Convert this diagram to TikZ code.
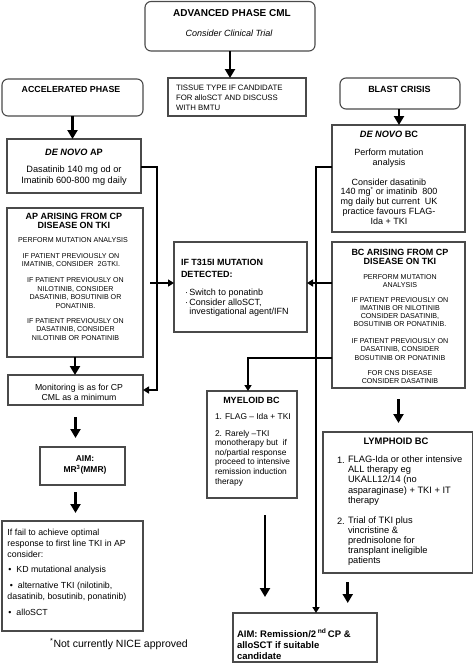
\documentclass[tikz,border=0pt]{standalone}
\usepackage{fontspec}
\setmainfont{Liberation Sans}
\usetikzlibrary{arrows.meta,fit}
\newcommand\fz[2]{\fontsize{#1}{#2}\selectfont}
\definecolor{bordergray}{HTML}{4A4A4A}
\begin{document}
\begin{tikzpicture}[x=1pt,y=-1pt,
  box/.style={draw=bordergray, line width=1.1pt, inner sep=0pt, outer sep=0pt},
  rbox/.style={box, rounded corners=6pt},
  txt/.style={inner sep=0pt, outer sep=0pt, align=center},
  ltxt/.style={inner sep=0pt, outer sep=0pt, align=left, anchor=west},
  thk/.style={line width=2.8pt, -{Triangle[width=10pt,length=9pt]}},
  conn/.style={line width=1.8pt, -{Triangle[width=7pt,length=6pt]}},
  plain/.style={line width=1.8pt}]
\useasboundingbox (0,0) rectangle (474,665);

% boxes
\node[rbox, fit={(145,1.5) (315,51)}] (top) {};
\node[box, fit={(168,78) (306,116)}] (tissue) {};
\node[rbox, fit={(2,79) (143,116)}] (accel) {};
\node[rbox, fit={(340,78) (460,109)}] (blast) {};
\node[box, fit={(7,139) (141,193)}] (dnap) {};
\node[box, fit={(7,208) (143,357)}] (aparise) {};
\node[box, fit={(8,375) (143,405)}] (monit) {};
\node[box, fit={(40,447) (125,485)}] (aimmr) {};
\node[box, fit={(2,521) (143,631)}] (iffail) {};
\node[box, fit={(174,242) (307,332)}] (tki) {};
\node[box, fit={(332,125) (465,232)}] (dnbc) {};
\node[box, fit={(332,242) (465,388)}] (bcarise) {};
\node[box, fit={(207,391) (297,498)}] (myel) {};
\node[box, fit={(323,432) (472.5,573)}] (lymph) {};
\node[box, fit={(233,613) (377,662)}] (aimrem) {};

% texts
\node[txt, font=\fz{10}{12}\bfseries] (tTopA) at (232,13) {ADVANCED PHASE CML};
\node[txt, font=\fz{9}{11}\itshape] (tTopB) at (229,33) {Consider Clinical Trial};
\node[ltxt, font=\fz{7.8}{10}] (tTis) at (176,98) {TISSUE TYPE IF CANDIDATE\\FOR alloSCT AND DISCUSS\\WITH BMTU};
\node[txt, font=\fz{8.8}{10}\bfseries] (tAcc) at (71,89) {ACCELERATED PHASE};
\node[txt, font=\fz{9}{10}\bfseries] (tBla) at (399.5,89) {BLAST CRISIS};

\node[txt, font=\fz{9.2}{11}\bfseries] (tDnapA) at (74,152) {\textit{DE NOVO} AP};
\node[txt, font=\fz{9.2}{11}] (tDnapB) at (74,175.5) {Dasatinib 140 mg od or\\Imatinib 600-800 mg daily};

\node[txt, font=\fz{9}{9}\bfseries] (tApA) at (74,220.5) {AP ARISING FROM CP\\DISEASE ON TKI};
\node[txt, font=\fz{7.1}{8.7}] (tApB) at (73,240) {PERFORM MUTATION ANALYSIS};
\node[txt, font=\fz{7.1}{8.7}] (tApC) at (71,260.5) {IF PATIENT PREVIOUSLY ON\\IMATINIB, CONSIDER\ \ 2GTKI.};
\node[txt, font=\fz{7.1}{8.7}] (tApD) at (75.5,293) {IF PATIENT PREVIOUSLY ON\\NILOTINIB, CONSIDER\\DASATINIB, BOSUTINIB OR\\PONATINIB.};
\node[txt, font=\fz{7.1}{8.7}] (tApE) at (75.5,329.5) {IF PATIENT PREVIOUSLY ON\\DASATINIB, CONSIDER\\NILOTINIB OR PONATINIB};

\node[txt, font=\fz{8.7}{10}] (tMon) at (79,392) {Monitoring is as for CP\\CML as a minimum};
\node[txt, font=\fz{8.5}{11}\bfseries] (tAimMR) at (85,464.5) {AIM:\\MR\textsuperscript{3}(MMR)};

\node[ltxt, font=\fz{8.8}{11}] (tFailA) at (7.5,543) {If fail to achieve optimal\\response to first line TKI in AP\\consider:};
\node[ltxt, font=\fz{8.8}{11}] (tFailB) at (8.5,570) {•\ \ KD mutational analysis};
\node[ltxt, font=\fz{8.8}{11}] (tFailC) at (7.5,591.5) {\ •\ \ alternative TKI (nilotinib,\\dasatinib, bosutinib, ponatinib)};
\node[ltxt, font=\fz{8.8}{11}] (tFailD) at (8.5,612) {•\ \ alloSCT};
\node[txt, font=\fz{10.5}{12}] (tFoot) at (119,644) {\textsuperscript{*}Not currently NICE approved};

\node[ltxt, font=\fz{9}{12}\bfseries] (tTkiA) at (181,268) {IF T315I MUTATION\\DETECTED:};
\node[ltxt, font=\fz{9}{9.5}] (tTkiB) at (185,302.7) {·\,Switch to ponatinb\\·\,Consider alloSCT,\\\hphantom{·\,}investigational agent/IFN};

\node[txt, font=\fz{9.2}{11}\bfseries] (tDnbcA) at (389,134) {\textit{DE NOVO} BC};
\node[txt, font=\fz{9}{10}] (tDnbcB) at (389,158) {Perform mutation\\analysis};
\node[txt, font=\fz{9}{9.75}] (tDnbcC) at (389,201.5) {Consider dasatinib\\140 mg\textsuperscript{*} or imatinib\ \ 800\\mg daily but current\ \ UK\\practice favours FLAG-\\Ida + TKI};

\node[txt, font=\fz{9}{8.5}\bfseries] (tBcA) at (400,257) {BC ARISING FROM CP\\DISEASE ON TKI};
\node[txt, font=\fz{7.1}{8}] (tBcB) at (400,281) {PERFORM MUTATION\\ANALYSIS};
\node[txt, font=\fz{7.1}{8}] (tBcC) at (400,312) {IF PATIENT PREVIOUSLY ON\\IMATINIB OR NILOTINIB\\CONSIDER DASATINIB,\\BOSUTINIB OR PONATINIB.};
\node[txt, font=\fz{7.1}{8.5}] (tBcD) at (400,349.5) {IF PATIENT PREVIOUSLY ON\\DASATINIB, CONSIDER\\BOSUTINIB OR PONATINIB};
\node[txt, font=\fz{7.1}{8}] (tBcE) at (400,377) {FOR CNS DISEASE\\CONSIDER DASATINIB};

\node[txt, font=\fz{9}{10}\bfseries] (tMyA) at (251.5,400) {MYELOID BC};
\node[ltxt, font=\fz{8.4}{9.6}] (tMyB) at (215,416) {1. FLAG -- Ida + TKI};
\node[ltxt, font=\fz{8.4}{9.6}] (tMyC) at (215,458) {2. Rarely --TKI\\monotherapy but\ \ if\\no/partial response\\proceed to intensive\\remission induction\\therapy};

\node[txt, font=\fz{9.4}{10}\bfseries] (tLyA) at (396,441) {LYMPHOID BC};
\node[ltxt, font=\fz{9.3}{10.2}] (tLyN1) at (337,460) {1.};
\node[ltxt, font=\fz{9.3}{10.2}] (tLyB) at (348,480.5) {FLAG-Ida or other intensive\\ALL therapy eg\\UKALL12/14 (no\\asparaginase) + TKI + IT\\therapy};
\node[ltxt, font=\fz{9.3}{10.2}] (tLyN2) at (337,521) {2.};
\node[ltxt, font=\fz{9.3}{10.2}] (tLyC) at (348,541) {Trial of TKI plus\\vincristine \&\\prednisolone for\\transplant ineligible\\patients};

\node[ltxt, font=\fz{9.5}{11}\bfseries] (tAimR) at (237,644) {AIM: Remission/2\,\textsuperscript{nd}\,CP \&\\alloSCT if suitable\\candidate};

% thick arrows
\draw[thk] (top.south) -- (top.south |- tissue.north);
\draw[thk] (accel.south) -- (accel.south |- dnap.north);
\draw[thk] ([xshift=-1pt]blast.south) -- ([xshift=-1pt]blast.south |- dnbc.north);
\draw[thk] (aparise.south) -- (aparise.south |- monit.north);
\draw[thk, shorten <=12pt, shorten >=9pt] (monit.south) -- (monit.south |- aimmr.north);
\draw[thk, shorten <=7pt, shorten >=8pt] (aimmr.south -| monit.south) -- (monit.south |- iffail.north);
\draw[thk, shorten <=11pt, shorten >=9pt] (bcarise.south) -- (bcarise.south |- lymph.north);
\draw[thk, shorten <=17pt, shorten >=16pt] ([xshift=13pt]myel.south) -- ([xshift=13pt]myel.south |- aimrem.north);
\draw[thk, shorten <=9pt, shorten >=10pt] ([xshift=-50pt]lymph.south) -- ([xshift=-50pt]lymph.south |- aimrem.north);

% thin connectors
\coordinate (lv) at (157,167);
\draw[conn] (dnap.east |- lv) -- (lv) |- (monit.east);
\coordinate (lj) at (150,283);
\draw[conn] (lj) -- (lj -| tki.west);
\draw[conn] (bcarise.west |- lj) -- (lj -| tki.east);
\coordinate (rv) at (316,167);
\draw[conn] (dnbc.west |- rv) -- (rv) -- (rv |- aimrem.north);
\coordinate (mj) at (248,358);
\draw[conn] (bcarise.west |- mj) -- (mj) -- (mj |- myel.north);
\end{tikzpicture}
\end{document}
